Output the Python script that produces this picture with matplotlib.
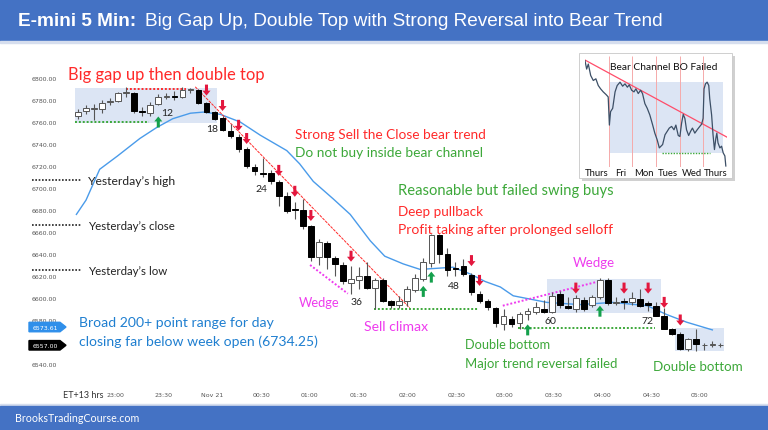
import matplotlib
matplotlib.use('Agg')
import matplotlib.pyplot as plt
from matplotlib.patches import Rectangle
import numpy as np

# 5 min bars (bar 1 .. 81)
opens = [6765, 6770, 6772, 6772, 6778, 6779, 6786, 6786, 6770, 6768,
         6776, 6783, 6784, 6783, 6789, 6789, 6777, 6769, 6764, 6752,
         6746, 6735, 6719, 6714, 6714, 6705, 6693, 6681, 6680, 6665,
         6637, 6650, 6636, 6630, 6614, 6616, 6620, 6609, 6616, 6597,
         6594, 6597, 6607, 6617, 6632, 6657, 6640, 6627, 6629, 6621,
         6604, 6597, 6591, 6576, 6581, 6577, 6585, 6587, 6590, 6587,
         6604, 6593, 6590, 6598, 6594, 6601, 6616, 6595, 6597, 6596,
         6599, 6595, 6593, 6584, 6572, 6567, 6554, 6563, 6557, 6557, 6557]
highs = [6772, 6775, 6776, 6780, 6782, 6787, 6792, 6787, 6774, 6778,
         6785, 6786, 6788, 6792, 6791, 6790, 6778, 6770, 6765, 6758,
         6749, 6737, 6722, 6727, 6716, 6707, 6696, 6687, 6690, 6666,
         6654, 6652, 6638, 6633, 6629, 6628, 6633, 6618, 6618, 6598,
         6602, 6611, 6622, 6636, 6658, 6658, 6645, 6633, 6635, 6623,
         6606, 6599, 6592, 6590, 6584, 6587, 6591, 6596, 6598, 6605,
         6606, 6601, 6603, 6601, 6603, 6618, 6618, 6601, 6600, 6605,
         6608, 6597, 6596, 6591, 6573, 6569, 6564, 6572, 6559, 6561, 6559]
lows = [6763, 6767, 6762, 6768, 6775, 6778, 6783, 6768, 6765, 6765,
        6775, 6781, 6780, 6782, 6786, 6776, 6768, 6762, 6752, 6745,
        6733, 6718, 6712, 6710, 6704, 6684, 6677, 6672, 6663, 6634,
        6630, 6626, 6620, 6613, 6604, 6608, 6608, 6590, 6596, 6591,
        6591, 6593, 6605, 6615, 6628, 6632, 6620, 6620, 6620, 6603,
        6595, 6589, 6574, 6571, 6574, 6572, 6580, 6585, 6586, 6586,
        6591, 6590, 6587, 6588, 6592, 6599, 6594, 6594, 6590, 6594,
        6592, 6588, 6584, 6572, 6566, 6553, 6552, 6552, 6553, 6555, 6555]
closes = [6769, 6773, 6772.5, 6777, 6779, 6786, 6787, 6770, 6769, 6775,
          6783, 6784, 6783, 6789, 6789, 6777, 6769, 6763, 6753, 6747,
          6735, 6720, 6715, 6713, 6706, 6693, 6679, 6680, 6665, 6637,
          6651, 6637, 6631, 6615, 6617, 6620, 6609, 6616, 6597, 6594,
          6597, 6608, 6618, 6633, 6657, 6640, 6625, 6626, 6622, 6605,
          6597, 6592, 6577, 6584, 6576, 6585, 6588, 6592, 6587, 6602,
          6594, 6591, 6600, 6590, 6601, 6616, 6595, 6596, 6596, 6600,
          6593, 6594, 6584, 6572, 6567, 6554, 6563, 6558, 6557, 6558, 6557]

# moving average read at a few bars
ema_bar = [0.8, 2, 3.7, 5.9, 8.7, 10.8, 12.8, 15, 16.6, 18.7, 21.2, 23.7, 27,
           28.6, 30.3, 32.8, 34.9, 37.4, 39.2, 41.5, 43.6, 45.7, 47.7, 49.8,
           51.7, 53.6, 55.2, 59.4, 63.5, 67.6, 71.9, 74.3, 76.8, 80]
ema_val = [6676, 6689, 6717, 6729, 6745, 6755, 6763, 6768, 6769, 6767, 6760,
           6748, 6734, 6722, 6706, 6690, 6676, 6652, 6638, 6631, 6626, 6627,
           6628, 6622, 6615, 6610, 6602, 6596, 6594, 6596, 6593, 6585, 6578,
           6571]

yest_levels = [6707, 6666, 6625]
yest_names = ['Yesterday’s high', 'Yesterday’s close', 'Yesterday’s low']

time_labels = ['23:00', '23:30', 'Nov 21', '00:30', '01:00', '01:30', '02:00',
               '02:30', '03:00', '03:30', '04:00', '04:30', '05:00']

sell_bars = [17, 19, 21, 22, 26, 28, 30, 35, 50, 51, 63, 69, 72, 74, 76]
sell_tips = [6784, 6770, 6752, 6740, 6711, 6692, 6670, 6633, 6629, 6611,
             6604, 6604, 6604, 6591, 6575]
buy_bars = [11, 44, 45, 57, 66]
buy_tips = [6765, 6611, 6624, 6576, 6593]

# weekly inset (day, price)
week_day = [0.00, 0.07, 0.14, 0.24, 0.35, 0.46, 0.56, 0.66, 0.77, 0.89, 0.98,
            1.03, 1.08, 1.17, 1.27, 1.36, 1.48, 1.59, 1.69, 1.79, 1.87, 1.97,
            2.07, 2.15, 2.25, 2.35, 2.43, 2.53, 2.63, 2.74, 2.86, 2.95, 3.05,
            3.14, 3.21, 3.28, 3.38, 3.47, 3.56, 3.66, 3.76, 3.84, 3.94, 4.01,
            4.08, 4.15, 4.22, 4.29, 4.38, 4.46, 4.54, 4.64, 4.74, 4.85, 4.93,
            4.99, 5.03, 5.09, 5.16, 5.23, 5.27, 5.35, 5.41, 5.47, 5.53, 5.57,
            5.62, 5.70, 5.77, 5.84, 5.91, 5.95]
week_px = [6855, 6830, 6845, 6811, 6796, 6801, 6781, 6771, 6762, 6754, 6747,
           6663, 6703, 6713, 6762, 6781, 6791, 6779, 6786, 6776, 6783, 6767,
           6762, 6771, 6757, 6767, 6757, 6727, 6713, 6693, 6663, 6639, 6619,
           6595, 6600, 6605, 6634, 6644, 6654, 6659, 6649, 6663, 6632, 6629,
           6668, 6695, 6683, 6649, 6632, 6644, 6654, 6639, 6649, 6659, 6666,
           6683, 6771, 6786, 6791, 6781, 6742, 6693, 6634, 6590, 6624, 6639,
           6610, 6595, 6600, 6580, 6571, 6541]
week_days = ['Thurs', 'Fri', 'Mon', 'Tues', 'Wed', 'Thurs']

RED = '#FF2A2A'
GREEN = '#3DA83A'
MAG = '#EE3BEE'
BLUE_T = '#1F7FD0'
ARROW_R = '#E3173E'
ARROW_G = '#14A04C'
BAND = '#4472C4'
SHADE = '#DCE5F4'


def bx(px):
    # pixel column -> bar number
    return 1 + (px - 78) / 8.03


def py(pix):
    # pixel row -> price
    return 6800 - (pix - 79) / 1.1


def pixel_axes(z):
    a = fig.add_axes([0, 0, 1, 1], zorder=z)
    a.set_xlim(0, 768)
    a.set_ylim(431, 0)
    a.axis('off')
    return a


fig = plt.figure(figsize=(7.68, 4.31), dpi=100)
ax = fig.add_axes([20 / 768, 46 / 431, 740 / 768, 335 / 431])
ax.set_xlim(bx(20), bx(760))
ax.set_ylim(py(385), py(50))
for s in ax.spines.values():
    s.set_visible(False)

o = np.array(opens, float)
h = np.array(highs, float)
l = np.array(lows, float)
c = np.array(closes, float)
x = np.arange(1, len(o) + 1)
up = c >= o
lo = np.minimum(o, c)
bh = np.maximum(np.abs(c - o), 0.7)

# shaded boxes
for b0, b1, p0, p1 in [(0.6, 18.3, 6759, 6791), (59.4, 73.6, 6586, 6617),
                       (75.3, 81.4, 6552, 6573)]:
    ax.add_patch(Rectangle((b0, p0), b1 - b0, p1 - p0, color=SHADE, lw=0, zorder=1))

ax.plot(ema_bar, ema_val, color='#4A9BEA', lw=1.0, zorder=2)

ax.vlines(x, l, h, color='#555555', lw=0.8, zorder=3)
ax.bar(x[up], bh[up], bottom=lo[up], width=0.7, color='white',
       edgecolor='#555555', lw=0.7, zorder=4)
ax.bar(x[~up], bh[~up], bottom=lo[~up], width=0.7, color='black',
       edgecolor='black', lw=0.7, zorder=4)

# lines
dots = (0, (1, 1))
ax.hlines(6790, 7.0, 14.4, color=RED, ls=dots, lw=1.4, zorder=2)
ax.hlines(6760, 0.6, 9.9, color=GREEN, ls=dots, lw=1.4, zorder=2)
ax.hlines(6590, 37.9, 50.8, color=GREEN, ls=dots, lw=1.4, zorder=2)
ax.hlines(6573, 55.8, 72.9, color=GREEN, ls=dots, lw=1.4, zorder=2)
ax.plot([29.9, 34.6], [6630, 6604], color=MAG, ls=dots, lw=1.4, zorder=2)
ax.plot([53.9, 65.8], [6593, 6615], color=MAG, ls=dots, lw=1.4, zorder=2)
ax.plot([15.6, 42.3], [6792, 6591], color=RED, ls=(0, (3, 1)), lw=0.7, zorder=2)
ax.hlines(yest_levels, bx(32), bx(82), color='#222222', ls=dots, lw=1.2,
          clip_on=False)

for b, t in zip(sell_bars, sell_tips):
    ax.arrow(b, t + 10, 0, -10, width=0.38, head_width=1.0, head_length=4.5,
             length_includes_head=True, fc=ARROW_R, ec='none', zorder=6)
for b, t in zip(buy_bars, buy_tips):
    ax.arrow(b, t - 10, 0, 10, width=0.38, head_width=1.0, head_length=4.5,
             length_includes_head=True, fc=ARROW_G, ec='none', zorder=6)

# axes ticks (6560 sits under the last price tag)
yt = np.arange(6540, 6801, 20)
ax.set_yticks(yt)
ax.set_yticklabels(['' if v == 6560 else f'{v:.2f}' for v in yt], fontsize=4.5,
                   color='#555555')
ax.tick_params(axis='y', length=0, pad=-26.6)
ax.set_xticks([5.6 + 6.07 * k for k in range(len(time_labels))])
ax.set_xticklabels(time_labels, fontsize=4.5, color='#555555')
ax.tick_params(axis='x', length=0, pad=5.5)

# price tags
for p, txt, col in [(6573.61, '6573.61', '#2F8FEA'), (6557.00, '6557.00', 'black')]:
    ax.fill([bx(29), bx(60), bx(66), bx(60), bx(29)],
            [p + 4.3, p + 4.3, p, p - 4.3, p - 4.3], color=col, zorder=7,
            clip_on=False)
    ax.text(bx(45), p, txt, color='white', fontsize=4.5, ha='center',
            va='center', zorder=8)

# overlay in pixel units
ov = pixel_axes(5)
ov.add_patch(Rectangle((0, 0), 768, 42, color=BAND))
ov.add_patch(Rectangle((0, 42), 768, 2, color='#D6DEEE'))
ov.add_patch(Rectangle((0, 405), 768, 2, color='#D6DEEE'))
ov.add_patch(Rectangle((0, 407), 768, 24, color=BAND))
ov.text(18, 21, 'E-mini 5 Min:', color='white', fontsize=13.7, weight='bold',
        family='Liberation Sans', va='center')
ov.text(145, 21, 'Big Gap Up, Double Top with Strong Reversal into Bear Trend',
        color='white', fontsize=13.7, family='Liberation Sans', va='center')
ov.text(63, 396, 'ET+13 hrs', fontsize=6.5, color='#333333', va='center',
        family='Lato')

fit = []


def label(a, px, pyy, txt, col, w):
    t = a.text(px, pyy, txt, color=col, fontsize=10, family='Lato', va='center')
    fit.append((t, w))
    return t


label(ov, 15, 419, 'BrooksTradingCourse.com', 'white', 125)
label(ov, 68, 75, 'Big gap up then double top', RED, 197)
for lev, nm, w in zip(yest_levels, yest_names, [87, 87, 79]):
    label(ov, 88, 79 + (6800 - lev) * 1.1, nm, '#222222', w)
label(ov, 295, 135, 'Strong Sell the Close bear trend', RED, 190)
label(ov, 295, 153, 'Do not buy inside bear channel', GREEN, 188)
label(ov, 398, 191, 'Reasonable but failed swing buys', GREEN, 214)
label(ov, 398, 212, 'Deep pullback', RED, 85)
label(ov, 398, 230, 'Profit taking after prolonged selloff', RED, 216)
label(ov, 299, 303, 'Wedge', MAG, 41)
label(ov, 364, 327, 'Sell climax', MAG, 64)
broad = ov.text(79, 323, 'Broad 200+ point range for day', color=BLUE_T,
                fontsize=10, family='Lato', va='center')
closing = label(ov, 79, 342, 'closing far below week open (6734.25)', BLUE_T, 239)
label(ov, 573, 263, 'Wedge', MAG, 42)
label(ov, 465, 345, 'Double bottom', GREEN, 86)
label(ov, 465, 364, 'Major trend reversal failed', GREEN, 153)
label(ov, 653, 367, 'Double bottom', GREEN, 90)

for num, (px, pyy) in zip([12, 18, 24, 36, 48, 60, 72],
                          [(167, 114), (212, 130), (261, 190), (357, 303),
                           (454, 287), (550, 322), (647, 322)]):
    ov.text(px, pyy, str(num), fontsize=7.5, family='Lato', color='#222222',
            ha='center', va='center')

# inset: frame, chart, then its texts on top
ov.add_patch(Rectangle((582, 57), 153, 125, color='#D0D0D0', lw=0))
ov.add_patch(Rectangle((579, 54), 153, 125, fc='white', ec='#C8C8C8', lw=0.6))

ins = fig.add_axes([585 / 768, (431 - 168) / 431, 142 / 768, 111 / 431], zorder=6)
ins.patch.set_alpha(0)
ins.set_xlim(0, 6)
ins.set_ylim(6538, 6869)
ins.axis('off')
ins.add_patch(Rectangle((1.0, 6580), 4.82, 212, color=SHADE, lw=0))
ins.vlines([1, 2, 3, 4, 5], 6538, 6869, color='#F5AAAA', lw=0.7)
ins.plot([-0.08, 6], [6860, 6627], color='#FF4D6A', lw=0.9)
ins.hlines(6580, 3.25, 5.27, color=GREEN, ls=dots, lw=1.0)
ins.plot(week_day, week_px, color='#3C4F66', lw=0.9)

top = pixel_axes(7)
label(top, 610, 67, 'Bear Channel BO Failed', '#111111', 107)
for d, nm in enumerate(week_days):
    top.text(585 + 23.7 * (d + 0.5), 174, nm, fontsize=6.8, family='Lato',
             color='#111111', ha='center', va='center')

fig.canvas.draw()
for t, w in fit:
    bb = t.get_window_extent()
    t.set_fontsize(t.get_fontsize() * w / bb.width)
broad.set_fontsize(closing.get_fontsize())

fig.savefig('out.png', dpi=100)
